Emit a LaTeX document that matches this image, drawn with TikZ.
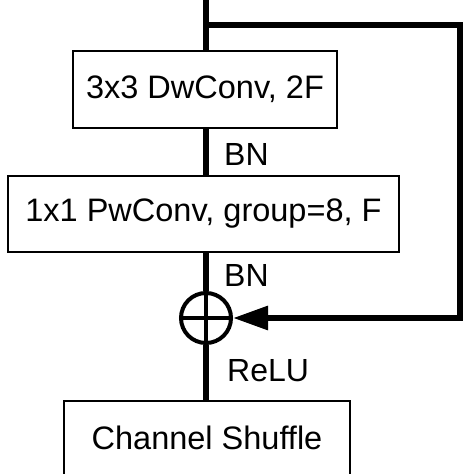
\documentclass[tikz,border=0pt]{standalone}
\usepackage{fontspec}
\setmainfont{Liberation Sans}
\usetikzlibrary{arrows.meta}
\begin{document}
\begin{tikzpicture}[
      x=1pt, y=-1pt,
      % The layer boxes:
      layer/.style={draw, line width=1.5pt, rectangle, font=\fontsize{32.5}{36}\selectfont, inner sep=0pt},
      flow/.style={draw, line width=6pt},
      lbl/.style={font=\fontsize{32}{36}\selectfont, anchor=west, inner sep=0pt},
      addop/.style={draw, line width=4pt, circle, minimum size=50pt, inner sep=0pt}
  ]
  \useasboundingbox (0,0) rectangle (474,474);
  \clip (0,0) rectangle (474,474);

  %%%%%%%%%%%%%%%%%%%%%%%%%%%%%%%%%%%%%%%%%%%%%%%%%%%%%%%%
  % Input and shortcut split
  %%%%%%%%%%%%%%%%%%%%%%%%%%%%%%%%%%%%%%%%%%%%%%%%%%%%%%%%
  \coordinate (In) at (206,-5);
  \coordinate (Split) at (206,25);
  \coordinate (SkipA) at (460,25);
  \coordinate (SkipB) at (460,318);

  %%%%%%%%%%%%%%%%%%%%%%%%%%%%%%%%%%%%%%%%%%%%%%%%%%%%%%%%
  % Main branch
  %%%%%%%%%%%%%%%%%%%%%%%%%%%%%%%%%%%%%%%%%%%%%%%%%%%%%%%%
  \node[layer, minimum width=264pt, minimum height=77pt] (Dw) at (205,89.5) {3x3 DwConv, 2F};
  \node[layer, minimum width=391pt, minimum height=76pt] (Pw) at (203.5,214) {1x1 PwConv, group=8, F};
  \node[addop] (Add) at (206,318) {};
  \node[layer, minimum width=286pt, minimum height=74pt] (Shuf) at (207,438) {Channel Shuffle};

  \draw[flow] (In) -- (Dw.north -| In);
  \draw[flow] (Dw.south -| In) -- (Pw.north -| In);
  \draw[flow] (Pw.south -| In) -- (Add.north);
  \draw[flow] (Add.south) -- (Shuf.north -| Add);

  % cross inside the sum node
  \draw[line width=4pt] (Add.north) -- (Add.south);
  \draw[line width=4pt] (Add.west) -- (Add.east);

  % Labels on the main branch
  \node[lbl] (BNa) at (224,154) {BN};
  \node[lbl] (BNb) at (224,275) {BN};
  \node[lbl] (Act) at (227,371) {ReLU};

  %%%%%%%%%%%%%%%%%%%%%%%%%%%%%%%%%%%%%%%%%%%%%%%%%%%%%%%%
  % Shortcut
  %%%%%%%%%%%%%%%%%%%%%%%%%%%%%%%%%%%%%%%%%%%%%%%%%%%%%%%%
  \draw[flow, line join=miter, -{Triangle[length=35pt, width=23pt]}]
    (Split) -- (SkipA) -- (SkipB) -- (Add.east);

\end{tikzpicture}
\end{document}
